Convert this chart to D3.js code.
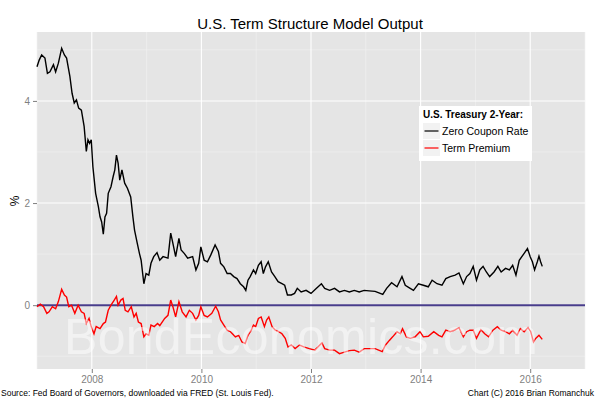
<!DOCTYPE html>
<html>
<head>
<meta charset="utf-8">
<script src="https://cdn.jsdelivr.net/npm/d3@7"></script>
<style>
  body { margin: 0; background: #fff; }
  svg text { font-family: "Liberation Sans", Arial, sans-serif; }
</style>
</head>
<body>
<div id="chart"></div>
<script>
// zero coupon rate (decimal year, %)
var rateYears = [2007.00,2007.04,2007.085,2007.145,2007.19,2007.236,2007.30,2007.34,2007.39,2007.45,2007.50,2007.54,2007.60,2007.64,2007.68,2007.72,2007.76,2007.81,2007.86,2007.90,2007.93,2007.96,2007.99,
  2008.02,2008.07,2008.12,2008.15,2008.18,2008.21,2008.24,2008.27,2008.30,2008.35,2008.39,2008.42,2008.45,2008.48,2008.51,2008.55,2008.60,2008.65,2008.71,2008.75,2008.78,2008.83,2008.87,2008.90,2008.95,2008.99,
  2009.04,2009.08,2009.13,2009.19,2009.24,2009.30,2009.39,2009.44,2009.48,2009.53,2009.59,2009.63,2009.69,2009.75,2009.84,2009.90,2009.95,2009.99,
  2010.05,2010.11,2010.17,2010.25,2010.31,2010.35,2010.41,2010.47,2010.53,2010.59,2010.65,2010.71,2010.77,2010.81,2010.85,2010.89,2010.95,2010.99,
  2011.04,2011.09,2011.13,2011.17,2011.22,2011.28,2011.34,2011.40,2011.47,2011.52,2011.57,2011.64,2011.70,2011.75,2011.82,2011.91,
  2012.00,2012.10,2012.19,2012.25,2012.34,2012.43,2012.52,2012.61,2012.70,2012.79,2012.88,2012.97,
  2013.06,2013.17,2013.31,2013.38,2013.47,2013.57,2013.66,2013.72,2013.81,2013.87,2013.96,
  2014.05,2014.14,2014.21,2014.30,2014.39,2014.46,2014.54,2014.63,2014.70,2014.78,2014.84,2014.90,2014.96,
  2015.02,2015.08,2015.14,2015.20,2015.26,2015.34,2015.41,2015.47,2015.55,2015.62,2015.68,2015.74,2015.80,2015.88,2015.95,
  2016.00,2016.04,2016.08,2016.13,2016.16,2016.19,2016.22];
var rateValues = [4.67,4.80,4.90,4.84,4.54,4.57,4.71,4.57,4.74,5.03,4.90,4.84,4.48,4.15,3.96,4.02,3.86,3.82,3.50,3.01,3.24,3.17,3.24,
  2.71,2.19,1.93,1.73,1.63,1.39,1.73,1.80,2.19,2.32,2.52,2.65,2.94,2.78,2.45,2.65,2.39,2.29,2.12,1.73,1.47,1.21,1.01,0.88,0.42,0.62,
  0.59,0.82,0.95,1.03,0.88,0.95,0.92,1.41,1.21,0.95,1.31,1.08,1.01,0.92,0.95,0.69,0.82,1.14,
  0.88,0.85,0.98,1.18,1.05,0.82,0.75,0.62,0.62,0.56,0.52,0.42,0.36,0.29,0.49,0.56,0.69,0.62,
  0.78,0.85,0.62,0.75,0.85,0.65,0.56,0.46,0.42,0.39,0.20,0.20,0.23,0.33,0.26,0.29,
  0.23,0.33,0.42,0.33,0.29,0.33,0.26,0.29,0.26,0.29,0.26,0.29,
  0.28,0.27,0.21,0.33,0.44,0.36,0.56,0.39,0.33,0.29,0.42,
  0.39,0.36,0.49,0.42,0.39,0.52,0.56,0.59,0.63,0.42,0.56,0.62,0.76,
  0.49,0.69,0.76,0.65,0.56,0.65,0.76,0.65,0.72,0.69,0.78,0.59,0.88,1.00,1.11,
  0.95,0.85,0.69,0.85,0.96,0.85,0.76];

// term premium (decimal year, %)
var premYears = [2007.00,2007.06,2007.12,2007.18,2007.22,2007.28,2007.34,2007.39,2007.45,2007.50,2007.54,2007.58,2007.63,2007.69,2007.75,2007.81,2007.86,2007.90,2007.95,2007.99,
  2008.04,2008.08,2008.15,2008.21,2008.25,2008.30,2008.35,2008.41,2008.45,2008.48,2008.53,2008.57,2008.61,2008.66,2008.72,2008.77,2008.81,2008.85,2008.90,2008.95,2008.99,
  2009.04,2009.08,2009.14,2009.20,2009.24,2009.33,2009.39,2009.44,2009.48,2009.53,2009.59,2009.65,2009.72,2009.78,2009.84,2009.90,2009.95,2009.99,
  2010.05,2010.11,2010.19,2010.26,2010.31,2010.35,2010.41,2010.47,2010.53,2010.62,2010.68,2010.74,2010.80,2010.85,2010.91,2010.95,2010.99,
  2011.04,2011.09,2011.15,2011.19,2011.23,2011.29,2011.35,2011.41,2011.47,2011.53,2011.58,2011.64,2011.71,2011.79,2011.88,2011.97,
  2012.07,2012.16,2012.20,2012.25,2012.34,2012.43,2012.52,2012.61,2012.70,2012.79,2012.88,2012.97,
  2013.06,2013.17,2013.30,2013.36,2013.43,2013.49,2013.57,2013.63,2013.67,2013.74,2013.81,2013.90,2013.99,
  2014.05,2014.14,2014.24,2014.33,2014.39,2014.46,2014.54,2014.62,2014.70,2014.78,2014.84,2014.90,2014.96,
  2015.02,2015.10,2015.17,2015.24,2015.32,2015.40,2015.47,2015.55,2015.62,2015.68,2015.76,2015.82,2015.89,2015.96,
  2016.01,2016.06,2016.10,2016.16,2016.22];
var premValues = [-0.03,0.02,-0.03,-0.16,-0.13,-0.03,-0.07,0.07,0.31,0.20,0.16,-0.03,0.00,-0.16,0.00,-0.13,-0.16,-0.36,-0.26,-0.42,
  -0.56,-0.42,-0.46,-0.36,-0.33,-0.10,0.00,0.10,0.17,0.00,0.10,0.13,-0.10,-0.13,-0.03,-0.23,-0.16,-0.33,-0.36,-0.62,-0.56,
  -0.59,-0.39,-0.42,-0.36,-0.40,-0.26,-0.20,0.10,-0.03,-0.23,0.07,-0.13,-0.23,-0.10,-0.16,-0.29,-0.20,-0.03,
  -0.20,-0.23,-0.16,-0.02,-0.13,-0.29,-0.39,-0.49,-0.52,-0.62,-0.59,-0.72,-0.75,-0.59,-0.49,-0.39,-0.42,
  -0.26,-0.23,-0.42,-0.29,-0.23,-0.42,-0.49,-0.52,-0.56,-0.65,-0.82,-0.78,-0.85,-0.78,-0.82,-0.85,
  -0.88,-0.78,-0.74,-0.85,-0.88,-0.88,-0.95,-0.92,-0.89,-0.88,-0.92,-0.85,
  -0.85,-0.85,-0.91,-0.78,-0.69,-0.62,-0.52,-0.56,-0.46,-0.62,-0.65,-0.62,-0.52,
  -0.62,-0.61,-0.52,-0.59,-0.62,-0.49,-0.52,-0.49,-0.44,-0.62,-0.52,-0.49,-0.49,
  -0.65,-0.48,-0.56,-0.62,-0.49,-0.42,-0.49,-0.52,-0.56,-0.49,-0.59,-0.46,-0.52,-0.44,
  -0.52,-0.72,-0.65,-0.59,-0.67];

var xMajor = [2008, 2010, 2012, 2014, 2016];
var xMinor = [2007, 2009, 2011, 2013, 2015, 2017];
var yMajor = [0, 2, 4];
var yMinor = [-1, 1, 3, 5];

var seriesNames = ["Zero Coupon Rate", "Term Premium"];
var seriesColors = ["#000000", "#ff0000"];

var W = 600, H = 400;
var margin = {top: 32, right: 15, bottom: 31, left: 37},
    width = W - margin.left - margin.right,
    height = H - margin.top - margin.bottom;

var svg = d3.select("#chart").append("svg")
    .attr("width", W)
    .attr("height", H);

svg.append("rect").attr("width", W).attr("height", H).attr("fill", "#fff");

var g = svg.append("g")
    .attr("transform", "translate(" + margin.left + "," + margin.top + ")");

var x = d3.scaleLinear().domain([2007, 2017]).range([0, width]);
var y = d3.scaleLinear().domain([-1.25, 5.35]).range([height, 0]);

g.append("rect")
    .attr("width", width)
    .attr("height", height)
    .attr("fill", "#e5e5e5");

// minor grid
g.selectAll(".xminor").data(xMinor).enter().append("line")
    .attr("x1", d => x(d)).attr("x2", d => x(d))
    .attr("y1", 0).attr("y2", height)
    .attr("stroke", "#f2f2f2").attr("stroke-width", 0.6);
g.selectAll(".yminor").data(yMinor).enter().append("line")
    .attr("x1", 0).attr("x2", width)
    .attr("y1", d => y(d)).attr("y2", d => y(d))
    .attr("stroke", "#f2f2f2").attr("stroke-width", 0.6);

// major grid
g.selectAll(".xmajor").data(xMajor).enter().append("line")
    .attr("x1", d => x(d)).attr("x2", d => x(d))
    .attr("y1", 0).attr("y2", height)
    .attr("stroke", "#fff").attr("stroke-width", 1.1);
g.selectAll(".ymajor").data(yMajor).enter().append("line")
    .attr("x1", 0).attr("x2", width)
    .attr("y1", d => y(d)).attr("y2", d => y(d))
    .attr("stroke", "#fff").attr("stroke-width", 1.1);

// watermark
svg.append("text")
    .attr("x", 64)
    .attr("y", 354)
    .attr("font-size", 50)
    .attr("textLength", 474)
    .attr("fill", "#fff")
    .attr("fill-opacity", 0.5)
    .text("BondEconomics.com");

// zero line
g.append("line")
    .attr("x1", 0).attr("x2", width)
    .attr("y1", y(0)).attr("y2", y(0))
    .attr("stroke", "#483d8b").attr("stroke-width", 2);

var line = d3.line()
    .x(d => x(d[0]))
    .y(d => y(d[1]));

g.append("path")
    .datum(d3.zip(rateYears, rateValues))
    .attr("fill", "none")
    .attr("stroke", seriesColors[0])
    .attr("stroke-width", 1.4)
    .attr("d", line);

g.append("path")
    .datum(d3.zip(premYears, premValues))
    .attr("fill", "none")
    .attr("stroke", seriesColors[1])
    .attr("stroke-width", 1.4)
    .attr("d", line);

// axes
var yAxis = g.append("g")
    .call(d3.axisLeft(y).tickValues(yMajor).tickSize(4).tickPadding(3).tickFormat(d3.format("d")));
var xAxis = g.append("g")
    .attr("transform", "translate(0," + height + ")")
    .call(d3.axisBottom(x).tickValues(xMajor).tickSize(4).tickPadding(3).tickFormat(d3.format("d")));
[xAxis, yAxis].forEach(function(a){
  a.select(".domain").remove();
  a.selectAll("line").attr("stroke", "#7f7f7f");
  a.selectAll("text").attr("fill", "#7f7f7f").attr("font-size", 10)
    .attr("font-family", "'Liberation Sans', Arial, sans-serif");
});

// title and labels
svg.append("text")
    .attr("x", 310).attr("y", 29)
    .attr("text-anchor", "middle")
    .attr("font-size", 15)
    .attr("fill", "#000")
    .text("U.S. Term Structure Model Output");

svg.append("text")
    .attr("transform", "translate(19,201) rotate(-90)")
    .attr("text-anchor", "middle")
    .attr("font-size", 12)
    .text("%");

svg.append("text")
    .attr("x", 1).attr("y", 396)
    .attr("font-size", 8.5)
    .text("Source: Fed Board of Governors, downloaded via FRED (St. Louis Fed).");

svg.append("text")
    .attr("x", 594).attr("y", 396)
    .attr("text-anchor", "end")
    .attr("font-size", 8.5)
    .text("Chart (C) 2016 Brian Romanchuk");

// legend
var leg = svg.append("g").attr("transform", "translate(419,106)");
leg.append("rect").attr("width", 113).attr("height", 55).attr("fill", "#fff");
leg.append("text")
    .attr("x", 4).attr("y", 12)
    .attr("font-size", 10).attr("font-weight", "bold")
    .text("U.S. Treasury 2-Year:");
seriesNames.forEach(function(name, i){
  var ky = 17 + i * 17;
  leg.append("rect").attr("x", 4).attr("y", ky).attr("width", 17).attr("height", 16).attr("fill", "#f2f2f2");
  leg.append("line").attr("x1", 5.5).attr("x2", 19.5).attr("y1", ky + 8).attr("y2", ky + 8)
    .attr("stroke", seriesColors[i]).attr("stroke-width", 1.2);
  leg.append("text").attr("x", 23).attr("y", ky + 12)
    .attr("font-size", 10.5)
    .text(name);
});
</script>
</body>
</html>
